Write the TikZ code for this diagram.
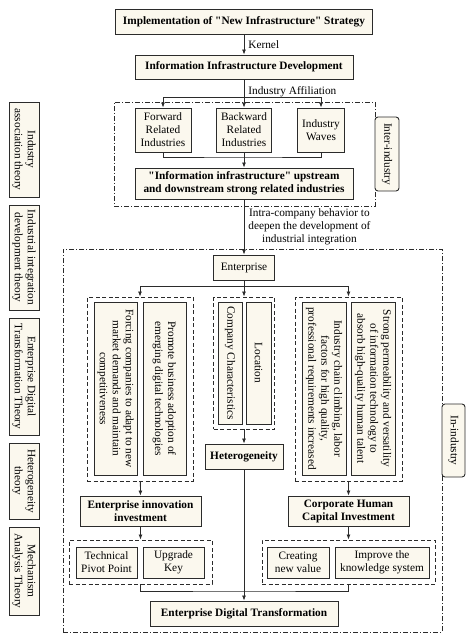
\documentclass[tikz,border=0pt]{standalone}
\usepackage{fontspec}
\setmainfont{Liberation Serif}
\usepackage{xcolor}
\usetikzlibrary{arrows.meta}
\definecolor{cream}{HTML}{FBF8EE}
\definecolor{edge}{HTML}{2B2B2B}

\begin{document}
\begin{tikzpicture}[x=1pt,y=-1pt,
  every node/.style={font=\fontsize{11.3}{13}\selectfont, inner sep=1pt, align=center},
  box/.style={draw=edge, line width=0.9pt, fill=cream, rectangle},
  bbox/.style={box, font=\fontsize{11.3}{13}\selectfont\bfseries},
  vbox/.style={box, rotate=-90},
  tag/.style={draw=edge, line width=0.9pt, fill=cream, rotate=-90, rounded corners=3pt},
  grp/.style={draw=edge, line width=0.9pt, dash pattern=on 4pt off 2.5pt},
  zone/.style={draw=edge, line width=0.6pt, dash pattern=on 5pt off 2pt on 1pt off 2pt},
  arr/.style={draw=edge, line width=0.8pt, -{Latex[length=5pt,width=4pt]}},
  ln/.style={draw=edge, line width=0.8pt}]
\useasboundingbox (0,0) rectangle (474,641);

% theory column
\node[tag, rounded corners=0pt, minimum width=95, minimum height=30] (thA) at (24,149.5) {Industry\\association theory};
\node[tag, rounded corners=0pt, minimum width=105, minimum height=30] (thB) at (24,257.5) {Industrial integration\\development theory};
\node[tag, rounded corners=0pt, minimum width=117, minimum height=30] (thC) at (24,376.5) {Enterprise Digital\\Transformation Theory};
\node[tag, rounded corners=0pt, minimum width=76, minimum height=30] (thD) at (24,481) {Heterogeneity\\theory};
\node[tag, rounded corners=0pt, minimum width=88, minimum height=30] (thE) at (24,571) {Mechanism\\Analysis Theory};

% zones
\node[zone, minimum width=261, minimum height=104] (interZone) at (244.5,154) {};
\node[zone, minimum width=379, minimum height=383] (inZone) at (252.5,440.5) {};
\node[tag, minimum width=74, minimum height=24] (interTag) at (387,154) {Inter-industry};
\node[tag, minimum width=73, minimum height=23] (inTag) at (453.5,440.5) {In-industry};

% inter-industry part
\node[bbox, minimum width=257, minimum height=25] (strategy) at (244,21.5) {Implementation of \textquotedbl New Infrastructure\textquotedbl\ Strategy};
\node[bbox, minimum width=218, minimum height=24] (infra) at (244,67) {Information Infrastructure Development};
\node[box, minimum width=56, minimum height=44] (fwd) at (163,130) {Forward\\Related\\Industries};
\node[box, minimum width=55, minimum height=44] (bwd) at (244,130) {Backward\\Related\\Industries};
\node[box, minimum width=47, minimum height=44] (waves) at (321,130) {Industry\\Waves};
\node[bbox, minimum width=218, minimum height=31] (chain) at (244,183.5) {\textquotedbl Information infrastructure\textquotedbl\ upstream\\and downstream strong related industries};

% in-industry part
\node[box, minimum width=61, minimum height=25] (ent) at (244,267.5) {Enterprise};
\node[grp, minimum width=106, minimum height=184] (grpL) at (140,389) {};
\node[grp, minimum width=61, minimum height=132] (grpM) at (244,363) {};
\node[grp, minimum width=107, minimum height=184] (grpR) at (348.5,389) {};
\node[vbox, minimum width=173, minimum height=43] (forcing) at (115.5,388.5) {Forcing companies to adapt to new\\market demands and maintain\\competitiveness};
\node[vbox, minimum width=173, minimum height=43] (promote) at (164.5,388.5) {Promote business adoption of\\emerging digital technologies};
\node[vbox, minimum width=122, minimum height=24] (company) at (230,363) {Company Characteristics};
\node[vbox, minimum width=122, minimum height=25] (location) at (258.5,363) {Location};
\node[vbox, minimum width=173, minimum height=44] (climb) at (324,388.5) {Industry chain climbing, labor\\factors for high quality,\\professional requirements increased};
\node[vbox, minimum width=173, minimum height=44] (permeate) at (373,388.5) {Strong permeability and versatility\\of information technology to\\absorb high-quality human talent};

\node[bbox, minimum width=78, minimum height=25] (hetero) at (244,456.5) {Heterogeneity};
\node[bbox, minimum width=121, minimum height=30] (innov) at (140.5,511) {Enterprise innovation\\investment};
\node[bbox, minimum width=121, minimum height=30] (human) at (348.5,511) {Corporate Human\\Capital Investment};

\node[grp, minimum width=143, minimum height=44] (grpBL) at (140.5,562) {};
\node[grp, minimum width=173, minimum height=44] (grpBR) at (348.5,562) {};
\node[box, minimum width=61, minimum height=31] (pivot) at (106.5,562.5) {Technical\\Pivot Point};
\node[box, minimum width=61, minimum height=31] (upgrade) at (173.5,562.5) {Upgrade\\Key};
\node[box, minimum width=62, minimum height=31] (value) at (298,562.5) {Creating\\new value};
\node[box, minimum width=94, minimum height=31] (knowledge) at (382,562.5) {Improve the\\knowledge system};
\node[bbox, minimum width=188, minimum height=25] (edt) at (244,613.5) {Enterprise Digital Transformation};

% connectors
\coordinate (split1) at (244,97);
\coordinate (join1) at (244,157);
\coordinate (split2) at (244,286);
\coordinate (join2) at (244,591);

\draw[arr] (strategy) -- (infra) node[midway, right=3pt]{Kernel};
\draw[arr] (infra) -- (bwd) node[pos=0.45, right=3pt]{Industry Affiliation};
\draw[arr] (split1) -| (fwd.north);
\draw[arr] (split1) -| (waves.north);
\draw[ln] (fwd.south) |- (join1) -| (waves.south);
\draw[arr] (bwd) -- (chain);
\draw[arr] (chain) -- (ent) node[midway, right=3pt]{Intra-company behavior to\\deepen the development of\\industrial integration};
\draw[arr] (ent) -- (grpM);
\draw[arr] (split2) -| (grpL.north);
\draw[arr] (split2) -| (grpR.north);
\draw[arr] (grpM) -- (hetero);
\draw[arr] (grpL) -- (innov);
\draw[arr] (grpR) -- (human);
\draw[arr] (innov) -- (grpBL);
\draw[arr] (human) -- (grpBR);
\draw[ln] (grpBL.south) |- (join2) -| (grpBR.south);
\draw[arr] (hetero) -- (edt);
\end{tikzpicture}
\end{document}
